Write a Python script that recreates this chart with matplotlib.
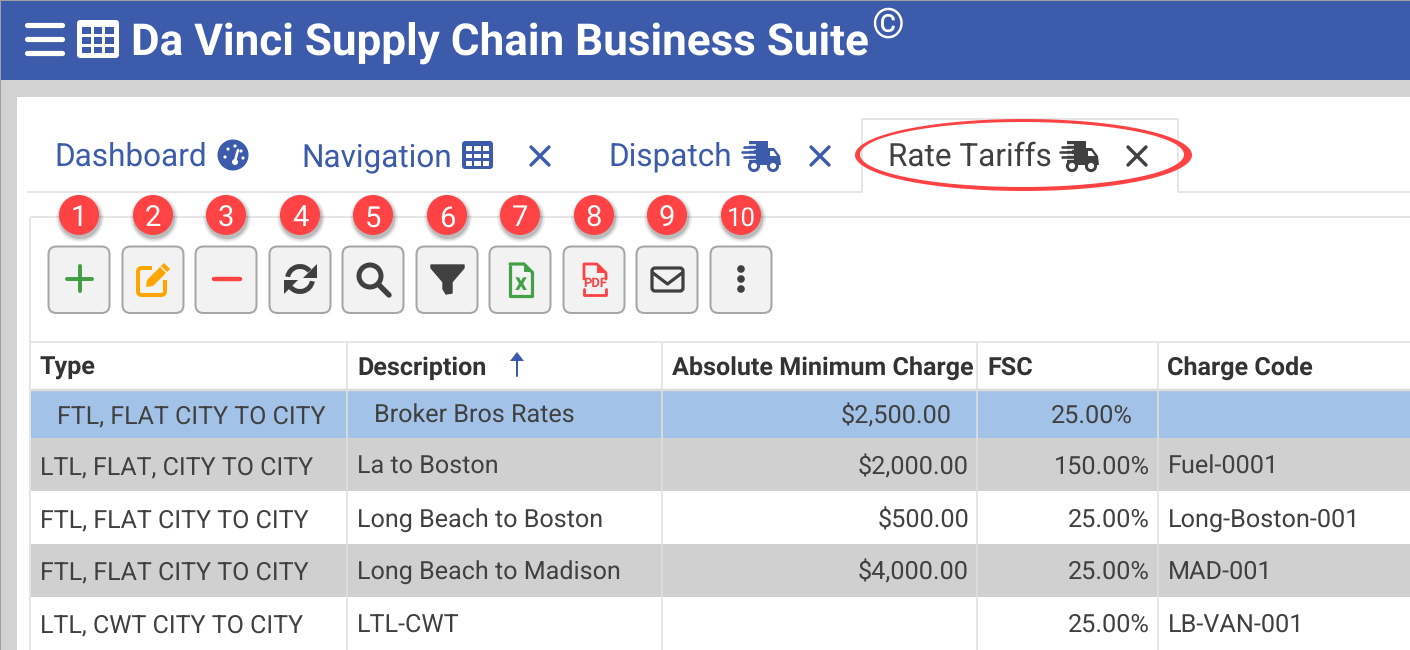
import numpy as np
import matplotlib
matplotlib.use("Agg")
import matplotlib.pyplot as plt
from matplotlib.patches import Rectangle, FancyBboxPatch, Circle, Polygon, Wedge

plt.rcParams['font.family'] = ['Roboto', 'DejaVu Sans']
plt.rcParams['text.hinting'] = 'no_hinting'

# Configuration
TITLE = "Da Vinci Supply Chain Business Suite"
BLUE = '#3C5BAB'
DARK = '#404040'
RED = '#FF4244'
GREEN = '#43A047'
ORANGE = '#FFA500'
LINE = '#E6E6E6'
TAB_SIZE = 22.7

# Table contents
col_headers = ["Type", "Description", "Absolute Minimum Charge", "FSC", "Charge Code"]
types = ["FTL, FLAT CITY TO CITY", "LTL, FLAT, CITY TO CITY", "FTL, FLAT CITY TO CITY",
         "FTL, FLAT CITY TO CITY", "LTL, CWT CITY TO CITY"]
descriptions = ["Broker Bros Rates", "La to Boston", "Long Beach to Boston",
                "Long Beach to Madison", "LTL-CWT"]
min_charges = ["$2,500.00", "$2,000.00", "$500.00", "$4,000.00", ""]
fsc = ["25.00%", "150.00%", "25.00%", "25.00%", "25.00%"]
charge_codes = ["", "Fuel-0001", "Long-Boston-001", "MAD-001", "LB-VAN-001"]
badges = ["1", "2", "3", "4", "5", "6", "7", "8", "9", "10"]

# Layout, all in pixels of the screenshot
col_x = [30, 347, 662, 977, 1158]
row_top = [391, 438, 491, 544, 597]
row_bottom = [438, 491, 544, 597, 650]
row_base = [423, 474, 527, 579, 632]
row_color = ['#A3C2E8', '#D0D0D0', '#FFFFFF', '#D0D0D0', '#FFFFFF']
button_x = [48, 122, 195, 269, 342, 416, 489, 563, 636, 710]

fig = plt.figure(figsize=(14.1, 6.5), dpi=100)
ax = fig.add_axes([0, 0, 1, 1])
ax.set_xlim(0, 1410)
ax.set_ylim(650, 0)
ax.axis('off')


def rect(x0, y0, x1, y1, color, z=1):
    ax.add_patch(Rectangle((x0, y0), x1 - x0, y1 - y0, fc=color, ec='none', lw=0, zorder=z))


def line(xs, ys, color, w=2.0, z=3, cap='round'):
    ax.plot(xs, ys, color=color, lw=w * 0.72, solid_capstyle=cap, solid_joinstyle='round', zorder=z)


def rbox(x0, y0, x1, y1, r, fc, ec='none', w=0.0, z=3):
    ax.add_patch(FancyBboxPatch((x0 + r, y0 + r), x1 - x0 - 2 * r, y1 - y0 - 2 * r,
                                boxstyle=f"round,pad={r},rounding_size={r}",
                                fc=fc, ec=ec, lw=w * 0.72, zorder=z))


def grid_icon(x0, y0, x1, y1, color, bg):
    rbox(x0, y0, x1, y1, 3.5, color)
    w = x1 - x0
    h = y1 - y0
    gx = [x0 + w * 0.13, x0 + w * 0.40, x0 + w * 0.67]
    gy = [y0 + h * 0.19, y0 + h * 0.45, y0 + h * 0.71]
    for px in gx:
        for py in gy:
            rect(px, py, px + w * 0.20, py + h * 0.17, bg, z=4)


def truck(x, y, color):
    # x, y = top left of a 38 x 30 icon
    ax.add_patch(Polygon([(x + 6, y), (x + 25, y), (x + 25, y + 24), (x + 6, y + 24)],
                         fc=color, ec='none', zorder=4))
    ax.add_patch(Polygon([(x + 25, y + 7), (x + 31, y + 7), (x + 37, y + 15), (x + 38, y + 24), (x + 25, y + 24)],
                         fc=color, ec='none', zorder=4))
    ax.add_patch(Polygon([(x + 27, y + 10), (x + 30.5, y + 10), (x + 34, y + 15), (x + 27, y + 15)],
                         fc='white', ec='none', zorder=5))
    for ly, lx0, lx1 in [(y + 6, x + 1, x + 13), (y + 11, x - 1, x + 11), (y + 16, x + 1, x + 13)]:
        line([lx0 - 1, lx1], [ly - 2.2, ly - 2.2], 'white', 1.6, z=5, cap='butt')
        line([lx0 - 1, lx1], [ly + 2.2, ly + 2.2], 'white', 1.6, z=5, cap='butt')
        line([lx0, lx1], [ly, ly], color, 2.6, z=6)
    for wx in [x + 11, x + 30]:
        ax.add_patch(Circle((wx, y + 25), 4.6, fc='white', ec=color, lw=3 * 0.72, zorder=6))


def close_x(cx, cy, color):
    line([cx - 9, cx + 9], [cy - 9, cy + 9], color, 3.4)
    line([cx - 9, cx + 9], [cy + 9, cy - 9], color, 3.4)


# Page background and header
rect(0, 0, 1410, 650, '#A0A0A0', z=0)
rect(1, 1, 1410, 650, '#D2D2D2', z=0)
rect(1, 1, 1410, 80, BLUE)
rect(17, 97, 1410, 650, 'white')

for hy in [25, 39, 53]:
    line([27, 62], [hy, hy], 'white', 5.2)
grid_icon(77, 20, 119, 58, 'white', BLUE)
ax.text(131, 55, TITLE, color='white', fontsize=31.7, fontweight='bold', va='baseline', zorder=5)
ax.text(871, 38, "\u00a9", color='white', fontsize=30, va='baseline', zorder=5)

# Tabs
line([27, 862], [192, 192], LINE, 2, cap='butt')
line([1178, 1410], [192, 192], LINE, 2, cap='butt')
line([862, 862, 1178, 1178], [192, 119, 119, 192], LINE, 2)
ax.text(54, 166, "Dashboard", color=BLUE, fontsize=TAB_SIZE, va='baseline', zorder=5)
ax.add_patch(Circle((233, 155), 15.5, fc=BLUE, ec='none', zorder=4))
for dx, dy in [(-8, 2), (-5, -6), (2, -9), (8, -4), (10, 3)]:
    ax.add_patch(Circle((233 + dx, 155 + dy), 1.6, fc='white', ec='none', zorder=5))
line([235, 238], [161, 150], 'white', 2.6, z=5)
ax.add_patch(Circle((235, 162), 3, fc='white', ec='none', zorder=5))

ax.text(301, 166, "Navigation", color=BLUE, fontsize=TAB_SIZE, va='baseline', zorder=5)
grid_icon(462, 141, 493, 169, BLUE, 'white')
close_x(540, 156, BLUE)

ax.text(608, 166, "Dispatch", color=BLUE, fontsize=TAB_SIZE, va='baseline', zorder=5)
truck(743, 141, BLUE)
close_x(820, 156, BLUE)

ax.text(888, 166, "Rate Tariffs", color=DARK, fontsize=TAB_SIZE, va='baseline', zorder=5)
truck(1061, 141, DARK)
close_x(1137, 156, DARK)

# Red hand drawn ring round the active tab
t = np.linspace(0, 2 * np.pi, 200)
outer = np.column_stack([1023.5 + 168.5 * np.cos(t), 155 + 36 * np.sin(t)])
inner = np.column_stack([1022 + 162 * np.cos(t), 154.5 + 32.5 * np.sin(t)])
ax.add_patch(Polygon(np.vstack([outer, inner[::-1]]), fc=RED, ec='none', lw=0, zorder=7))

# Toolbar panel
line([30, 1410], [217, 217], LINE, 2, cap='butt')
line([30, 30], [217, 650], LINE, 2, cap='butt')

for bx in button_x:
    rbox(bx + 0.5, 246.5, bx + 61.5, 313, 8, '#F2F2F2', ec='#A6A6A6', w=2)

# Toolbar icons
line([67, 92], [279, 279], GREEN, 4)
line([79.5, 79.5], [266, 291], GREEN, 4)

rbox(138, 268, 165, 295, 4, 'none', ec=ORANGE, w=4)
rect(152, 262, 172, 280, '#F2F2F2', z=4)
ax.add_patch(Polygon([(146, 287), (147, 280), (164, 263), (170, 269), (153, 286)], fc=ORANGE, ec='none', zorder=5))
line([161, 167], [267, 273], '#F2F2F2', 1.4, z=6)

line([214, 240], [279, 279], RED, 4.4)

# refresh arrows
ax.add_patch(Wedge((300, 279), 15, 190, 320, width=5, fc=DARK, ec='none', zorder=4))
ax.add_patch(Wedge((300, 279), 15, 10, 140, width=5, fc=DARK, ec='none', zorder=4))
ax.add_patch(Polygon([(317, 264), (317, 278), (303, 278)], fc=DARK, ec='none', zorder=5))
ax.add_patch(Polygon([(284, 294), (284, 280), (298, 280)], fc=DARK, ec='none', zorder=5))

ax.add_patch(Circle((370, 276), 11, fc='none', ec=DARK, lw=5 * 0.72, zorder=4))
line([378, 389], [284, 295], DARK, 5.4)

ax.add_patch(Polygon([(431, 265), (464, 265), (464, 268), (452, 282), (452, 293), (446, 294), (443, 289),
                      (443, 282), (431, 268)], fc=DARK, ec='#404040', lw=1, joinstyle='round', zorder=4))

line([510, 510, 532, 532], [266, 295.5, 295.5, 272], GREEN, 3.2)
line([510, 524, 532], [264, 264, 272], GREEN, 3.2)
ax.add_patch(Polygon([(524, 263), (533, 272), (524, 272)], fc=GREEN, ec='none', zorder=4))
ax.text(521, 283, "x", color=GREEN, fontsize=17, fontweight='bold', ha='center', va='center', zorder=5)

line([584, 584, 597, 606, 606], [279, 264, 264, 273, 279], RED, 2.8)
line([584, 584, 606, 606], [289, 295, 295, 289], RED, 2.8)
ax.add_patch(Polygon([(597, 263), (607, 273), (597, 273)], fc=RED, ec='none', zorder=4))
ax.text(595, 283, "PDF", color=RED, fontsize=9.4, fontweight='bold', ha='center', va='center', zorder=5)

rbox(652, 268, 683, 291, 3, 'none', ec=DARK, w=3.2)
line([653, 667.5, 682], [273, 284, 273], DARK, 3.2)

for dy in [269, 279, 289]:
    ax.add_patch(Circle((741, dy), 3.8, fc=DARK, ec='none', zorder=4))

# Numbered badges, one above each button
for bx, label in zip(button_x, badges):
    cx = bx + 31
    for grow, alpha in [(4, 0.06), (2.5, 0.09), (1, 0.14)]:
        ax.add_patch(Circle((cx + 1, 218), 20 + grow, fc='black', ec='none', alpha=alpha, zorder=7))
    ax.add_patch(Circle((cx, 215), 20, fc=RED, ec='none', zorder=8))
    size = 18.5 if label == "10" else 21
    ax.text(cx, 215.5, label, color='white', fontsize=size, ha='center', va='center_baseline', zorder=9)

# Table
for top, bottom, color in zip(row_top, row_bottom, row_color):
    rect(31, top, 1410, bottom, color)
line([31, 1410], [342, 342], LINE, 2, cap='butt')
line([31, 1410], [389.5, 389.5], '#DCDCDC', 2.5, cap='butt')
for cx in col_x[1:]:
    line([cx, cx], [342, 650], '#E0E0E0', 1.6, z=2, cap='butt')

head_x = [40, 357, 672, 987, 1167]
for hx, label in zip(head_x, col_headers):
    ax.text(hx, 375, label, color='#333333', fontsize=18.1, fontweight='bold', va='baseline', zorder=5)
line([517, 517], [356, 376], BLUE, 2)
ax.add_patch(Polygon([(510, 361), (517, 352), (524, 361)], fc=BLUE, ec='none', zorder=5))

for i in range(5):
    # the selected row sits a little further in
    shift = 17 if i == 0 else 0
    base = row_base[i]
    ax.text(40 + shift, base, types[i], color=DARK, fontsize=18.0, va='baseline', zorder=5)
    ax.text(357 + shift, base, descriptions[i], color=DARK, fontsize=18.1, va='baseline', zorder=5)
    ax.text(969 - shift, base, min_charges[i], color=DARK, fontsize=18.2, ha='right', va='baseline', zorder=5)
    ax.text(1150 - shift, base, fsc[i], color=DARK, fontsize=18.2, ha='right', va='baseline', zorder=5)
    ax.text(1168, base, charge_codes[i], color=DARK, fontsize=18.2, va='baseline', zorder=5)

fig.savefig('out.png', dpi=100)
